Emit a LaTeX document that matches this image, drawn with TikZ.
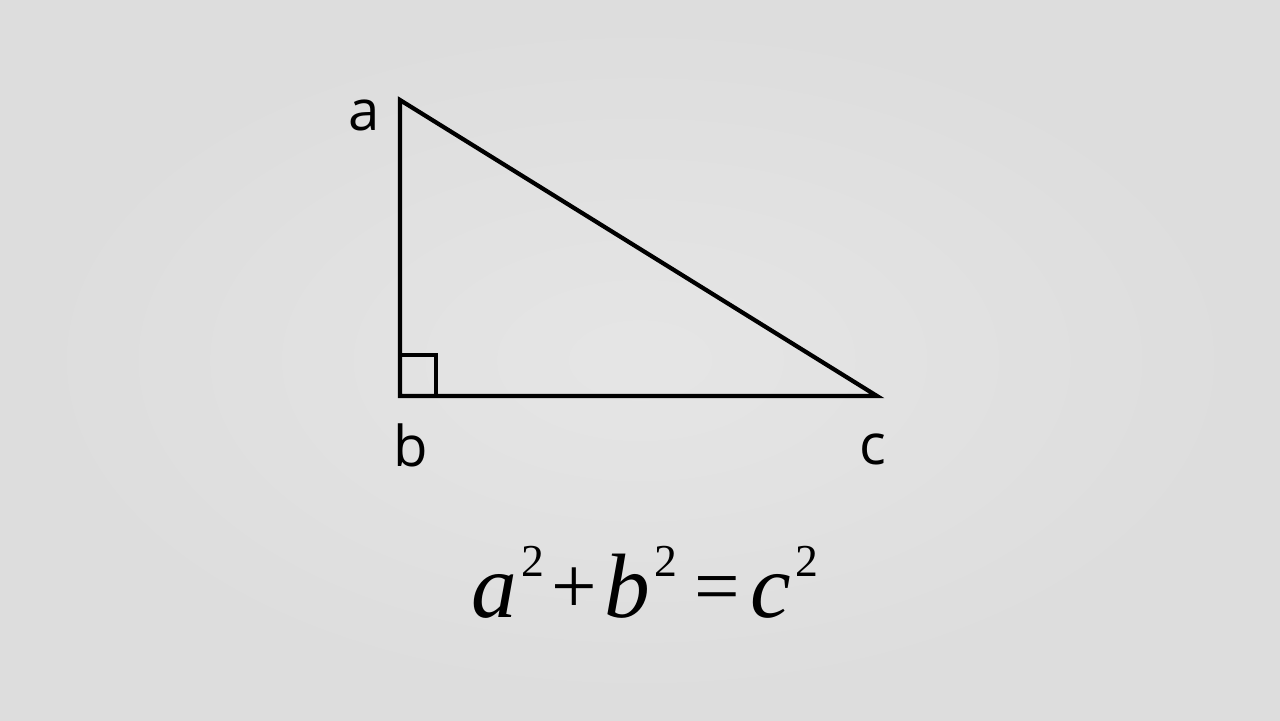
\documentclass[tikz,border=0pt]{standalone}
\usepackage{fontspec}
\setsansfont{Open Sans}
\newfontfamily\eqfont{Liberation Serif}
\usepackage{tikz}
\usetikzlibrary{positioning}
\tikzset{side/.style={draw=black, line width=1.2pt, line join=miter},
vlabel/.style={font=\sffamily\fontsize{16}{18}\selectfont, inner sep=0pt}}
\newcommand{\sqr}{\hspace{1.2pt}\raisebox{0.45em}{\upshape\fontsize{13}{14}\selectfont 2}}
\newcommand{\eqop}[1]{{\upshape\fontsize{23}{23}\selectfont\raisebox{0.05em}{#1}}}
\definecolor{paper}{gray}{0.9}
\definecolor{paperedge}{gray}{0.865}

\begin{document}
\begin{tikzpicture}[x=0.01cm, y=-0.01cm]
			\shade[inner color=paper, outer color=paperedge] (0,0) rectangle (1280,720);
			\useasboundingbox (0,0) rectangle (1280,720);
			
			\coordinate (A) at (400,100);
			\coordinate (B) at (400,396);
			\coordinate (C) at (877,396);
			
			\node[vlabel] (la) at (364,115) {a};
			\node[vlabel] (lb) at (411,445) {b};
			\node[vlabel] (lc) at (873,449) {c};
			
			\draw[side] (A) -- (B) -- (C) -- cycle;
			\draw[side] (B) ++(0,-41) coordinate (Q1) -- ++(36,0) coordinate (Q2) -- ++(0,41);
			
			\node[inner sep=0pt, font=\eqfont\fontsize{26}{28}\selectfont] (eq) at (645,582)
			{\itshape a\sqr\hspace{2pt}\eqop{+}\hspace{2pt}b\sqr\hspace{5pt}\eqop{=}\hspace{3pt}c\sqr};
		\end{tikzpicture}
\end{document}
